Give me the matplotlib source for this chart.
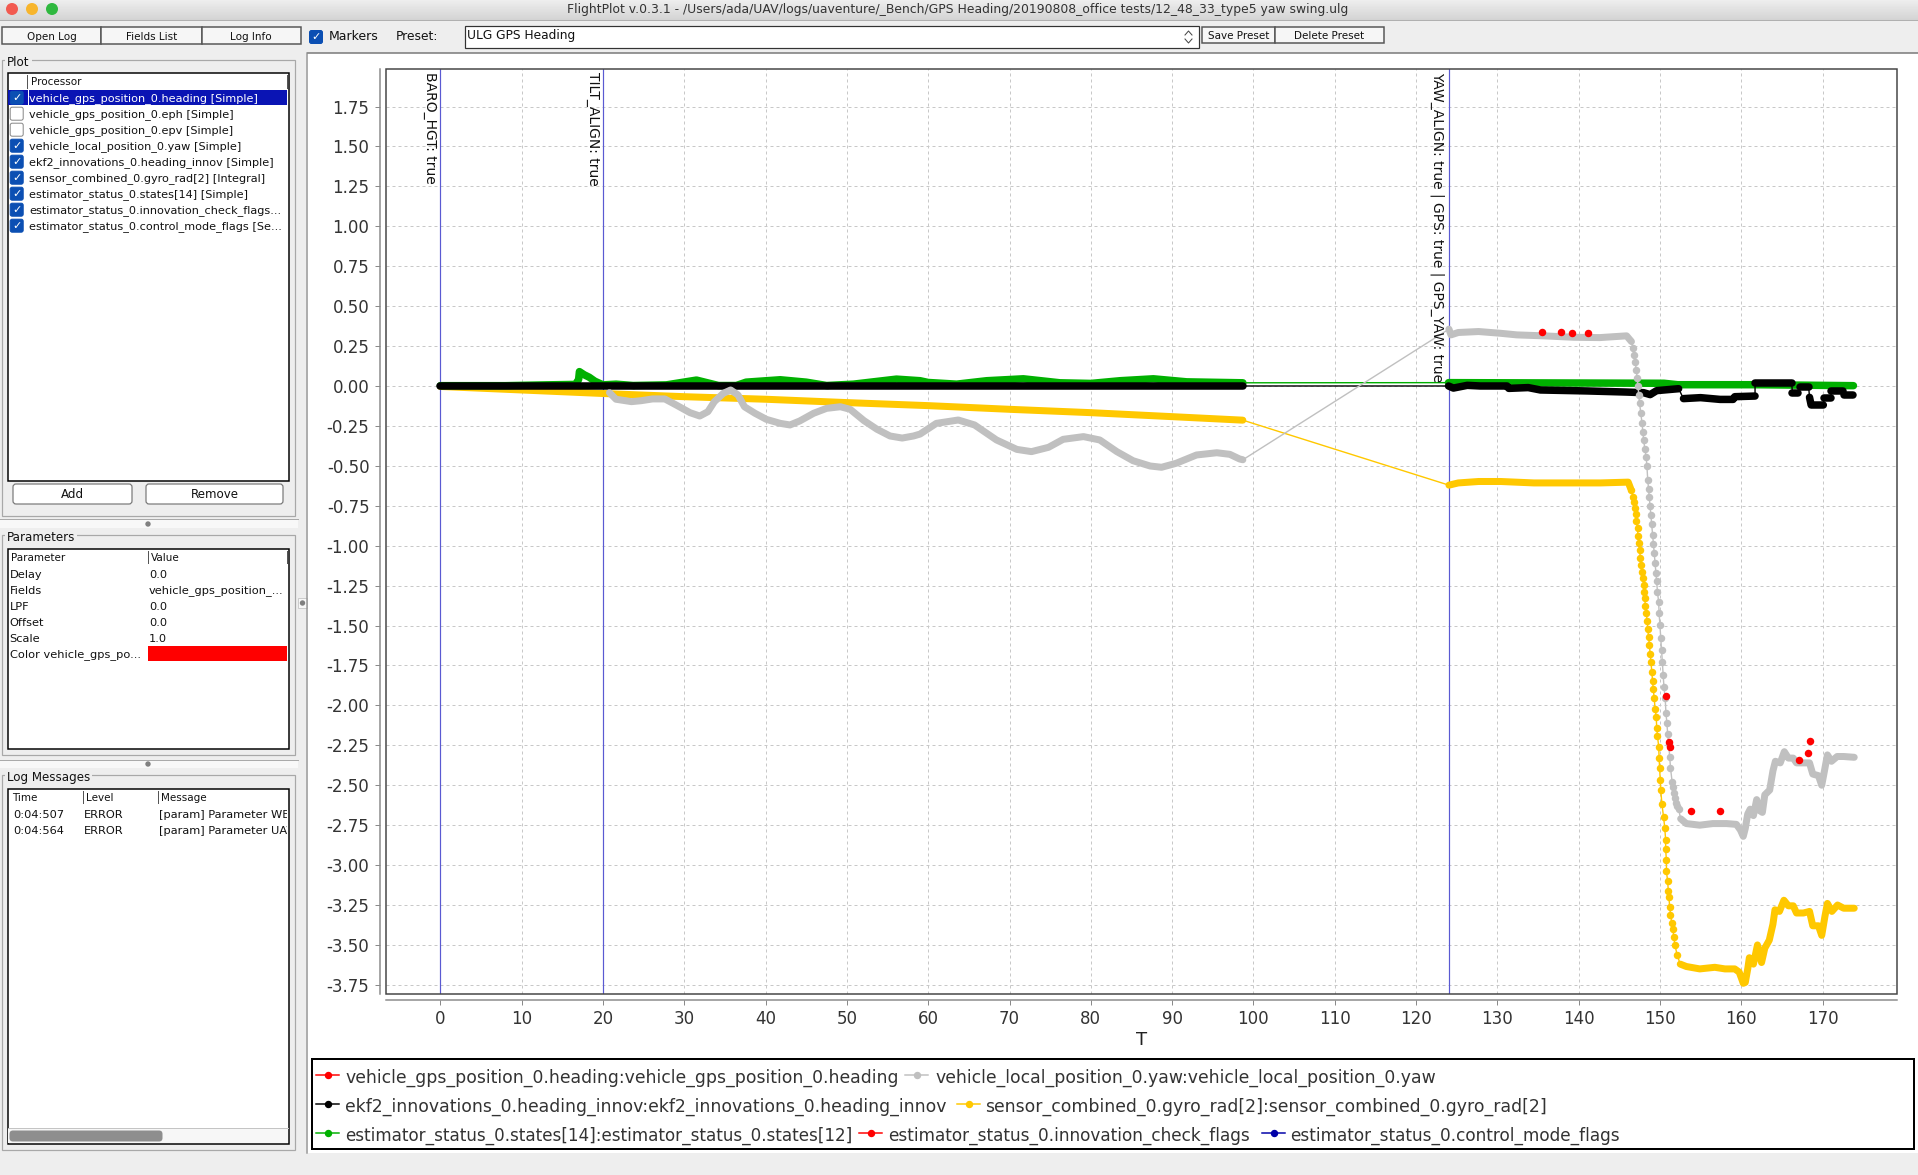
import numpy as np
import matplotlib
matplotlib.use("Agg")
import matplotlib.pyplot as plt
from matplotlib.patches import Rectangle, FancyBboxPatch, Circle

# series: a/b/c/d are the runs of the log
yaw_t_a = [20.8, 21.6, 23.5, 24.7, 26.1, 27.6, 29, 30.7, 31.9, 32.9, 33.7, 34.8, 35.7, 36.6, 37.4, 38.7, 40.1, 41.8,
           43, 44.2, 45.9, 47.5, 49.2, 50.4, 52.1, 53.7, 55.3, 56.8, 58.2, 59, 61, 63.7, 65.7, 68.4, 70.9, 72.7, 74.8,
           76.6, 79.1, 81.1, 83.2, 85.2, 87.3, 88.7, 90.5, 93, 95.5, 97.1, 98.3, 98.7]
yaw_a = [-.042, -.083, -.098, -.092, -.081, -.081, -.119, -.167, -.188, -.161, -.098, -.046, -.025, -.056, -.13,
         -.171, -.209, -.234, -.244, -.219, -.171, -.14, -.13, -.146, -.217, -.271, -.313, -.326, -.313, -.301, -.234,
         -.213, -.244, -.338, -.397, -.411, -.384, -.334, -.317, -.338, -.411, -.468, -.501, -.509, -.484, -.432,
         -.418, -.428, -.457, -.462]
yaw_t_b = [124.05, 124.3, 125.2, 127.7, 130.4, 132.4, 135.7, 139.4, 142.6, 145.9, 146.5]
yaw_b = [.356, .32, .335, .341, .33, .32, .314, .305, .303, .314, .278]
yaw_t_c = [146.7, 146.8, 146.95, 147.1, 147.2, 147.3, 147.4, 147.5, 147.65, 147.8, 147.9, 148, 148.15, 148.3, 148.4,
           148.5, 148.6, 148.7, 148.8, 148.9, 149, 149.1, 149.2, 149.3, 149.4, 149.5, 149.6, 149.7, 149.84, 149.9,
           150, 150.1, 150.2, 150.3, 150.4, 150.5, 150.65, 150.74, 150.86, 150.95, 151.07, 151.2, 151.3, 151.5,
           151.6, 151.7, 151.85, 152, 152.15, 152.3]
yaw_c = [.24, .195, .15, .1, .05, 0, -.055, -.109, -.17, -.234, -.29, -.34, -.395, -.444, -.5, -.5875, -.644, -.696,
         -.75, -.81, -.867, -.93, -.9875, -1.046, -1.106, -1.169, -1.223, -1.2875, -1.354, -1.42, -1.498, -1.58,
         -1.654, -1.73, -1.8125, -1.8875, -1.954, -2.05, -2.11, -2.18, -2.24, -2.32, -2.39, -2.48, -2.51, -2.55,
         -2.58, -2.61, -2.63, -2.65]
yaw_t_d = [152.55, 153.25, 154.9, 156.5, 158.2, 159.4, 159.9, 160.25, 160.5, 160.8, 161.1, 161.5, 161.9, 162.3, 162.6,
           162.9, 163.5, 163.9, 164.2, 164.8, 165.3, 165.8, 166.4, 166.8, 167.7, 168.4, 168.8, 169.5, 169.9, 170.2,
           170.6, 171.1, 171.8, 172.6, 173.9]
yaw_d = [-2.71, -2.74, -2.75, -2.74, -2.74, -2.745, -2.78, -2.82, -2.77, -2.68, -2.65, -2.69, -2.59, -2.66, -2.67,
         -2.56, -2.53, -2.41, -2.35, -2.36, -2.29, -2.33, -2.33, -2.36, -2.36, -2.36, -2.43, -2.44, -2.5, -2.42,
         -2.31, -2.35, -2.32, -2.32, -2.325]

gyro_t_a = [0, 10, 20, 30, 40, 50, 60, 70, 80, 90, 98.7]
gyro_a = [-.003, -.025, -.047, -.067, -.083, -.104, -.123, -.146, -.167, -.192, -.214]
gyro_t_b = [124.05, 125.2, 127.7, 130.4, 134.5, 138.6, 142.7, 146.1, 146.4]
gyro_b = [-.621, -.607, -.598, -.598, -.607, -.607, -.607, -.602, -.642]
gyro_t_c = [146.5, 146.7, 146.8, 146.9, 147.1, 147.1, 147.25, 147.3, 147.4, 147.5, 147.6, 147.7, 147.75, 147.9, 148,
            148.07, 148.15, 148.2, 148.3, 148.44, 148.5, 148.6, 148.7, 148.8, 148.9, 149, 149.1, 149.18, 149.3, 149.4,
            149.55, 149.6, 149.7, 149.85, 149.9, 149.96, 150.04, 150.1, 150.25, 150.45, 150.6, 150.7, 150.7, 150.8,
            150.8, 150.95, 151.03, 151.1, 151.2, 151.3, 151.45, 151.6, 151.7, 151.85, 152.1]
gyro_c = [-.654, -.696, -.727, -.7625, -.8, -.846, -.892, -.9375, -.983, -1.03, -1.077, -1.119, -1.1625, -1.2, -1.244,
          -1.2875, -1.33, -1.375, -1.42, -1.47, -1.52, -1.57, -1.62, -1.677, -1.73, -1.79, -1.85, -1.9, -1.954, -2.02,
          -2.07, -2.14, -2.19, -2.26, -2.33, -2.39, -2.47, -2.53, -2.62, -2.7, -2.77, -2.84, -2.9, -2.97, -3.04, -3.1,
          -3.16, -3.2, -3.26, -3.31, -3.36, -3.4, -3.45, -3.5, -3.56]
gyro_t_d = [152.5, 153.25, 154.9, 156.75, 158, 159.2, 159.75, 160.04, 160.25, 160.5, 160.8, 161, 161.5, 162, 162.5,
            162.9, 163.45, 163.9, 164.15, 164.7, 165.25, 165.8, 166.4, 166.8, 167.65, 168.4, 168.8, 169.5, 169.9,
            170.3, 170.6, 171.15, 171.85, 172.6, 173.9]
gyro_d = [-3.62, -3.635, -3.65, -3.64, -3.65, -3.65, -3.67, -3.71, -3.74, -3.735, -3.65, -3.58, -3.62, -3.5, -3.61,
          -3.52, -3.47, -3.37, -3.28, -3.29, -3.22, -3.255, -3.255, -3.3, -3.3, -3.29, -3.38, -3.38, -3.44, -3.32,
          -3.24, -3.29, -3.25, -3.27, -3.27]

state_t_a = [0, 8, 13, 16.6, 17, 17.1, 17.7, 18.3, 19, 20, 21.6, 23.7, 27.8, 31.5, 34.2, 36.4, 37.6, 41.8, 45, 47.5,
             50.8, 56.1, 59, 60, 63.5, 67.2, 71.7, 76.2, 80, 83.6, 87.7, 91.8, 98.7]
state_a = [.002, .002, .007, .01, .04, .09, .07, .055, .03, .007, .0115, .003, .007, .037, .003, .003, .024, .039,
           .024, .003, .0115, .043, .033, .022, .0115, .033, .045, .02, .016, .033, .045, .026, .02]
state_t_b = [124, 150.5, 152.2, 161.7, 173.8]
state_b = [.021, .017, .008, .008, .002]

innov_t_a = [0, 23.7]
innov_a = [0, 0]
innov_t_b = [23.95, 47.5]
innov_b = [0, 0]
innov_t_c = [47.85, 98.7]
innov_c = [0, 0]
innov_t_d = [124, 124.6, 126.3, 127.9, 131.2, 131.4, 133.8, 135.3, 141, 145.9, 148, 148.8, 149.6, 152.3]
innov_d = [0, -.013, .004, 0, 0, -.015, -.01, -.025, -.031, -.038, -.042, -.054, -.029, -.017]
innov_t_e = [152.9, 155, 157.4, 159, 159.2, 161.7]
innov_e = [-.079, -.073, -.084, -.084, -.067, -.063]
innov_t_f = [161.7, 166.2]
innov_f = [.021, .021]
innov_t_g = [166.3, 167]
innov_g = [-.042, -.042]
innov_t_h = [167.2, 168.3]
innov_h = [-.008, -.008]
innov_t_i = [168.4, 168.6, 170.1]
innov_i = [-.071, -.119, -.119]
innov_t_j = [170.2, 171]
innov_j = [-.077, -.077]
innov_t_k = [171.1, 172.5]
innov_k = [-.029, -.029]
innov_t_l = [172.6, 173.8]
innov_l = [-.054, -.054]

heading_t = [135.5, 137.8, 139.2, 141.2, 150.7, 151.1, 151.2, 153.8, 157.4, 167.1, 168.2, 168.5]
heading = [.337, .339, .331, .331, -1.94, -2.23, -2.26, -2.66, -2.66, -2.34, -2.295, -2.22]

event_t = [0, 20, 124]
event_labels = ["BARO_HGT: true", "TILT_ALIGN: true", "YAW_ALIGN: true | GPS: true | GPS_YAW: true"]

x_ticks = list(range(0, 171, 10))
y_ticks = [1.75, 1.5, 1.25, 1.0, .75, .5, .25, 0, -.25, -.5, -.75, -1.0, -1.25, -1.5, -1.75, -2.0, -2.25, -2.5,
           -2.75, -3.0, -3.25, -3.5, -3.75]

processors = ["vehicle_gps_position_0.heading [Simple]", "vehicle_gps_position_0.eph [Simple]",
              "vehicle_gps_position_0.epv [Simple]", "vehicle_local_position_0.yaw [Simple]",
              "ekf2_innovations_0.heading_innov [Simple]", "sensor_combined_0.gyro_rad[2] [Integral]",
              "estimator_status_0.states[14] [Simple]", "estimator_status_0.innovation_check_flags...",
              "estimator_status_0.control_mode_flags [Se..."]
processor_on = [True, False, False, True, True, True, True, True, True]
param_names = ["Delay", "Fields", "LPF", "Offset", "Scale", "Color vehicle_gps_po..."]
param_values = ["0.0", "vehicle_gps_position_...", "0.0", "0.0", "1.0", ""]

UI_FONT = "DejaVu Sans"
RED, GREY, BLACK, YELLOW, GREEN, NAVY = "#ff0000", "#c0c0c0", "#000000", "#ffc800", "#00b000", "#0000a8"
PX = 0.72  # one pixel in points at dpi 100

fig = plt.figure(figsize=(19.18, 11.75), dpi=100, facecolor="#eeeeee")
bg = fig.add_axes([0, 0, 1, 1], zorder=0)
bg.axis("off")


def ui_text(x, y, s, size=8.2, color="#111111", ha="left", **kw):
    return bg.text(x, y + 1, s, fontsize=size, color=color, ha=ha, va="center", family=UI_FONT, **kw)


def box(x0, y0, x1, y1, face="white", edge="black", lw=1.5, z=1):
    bg.add_patch(Rectangle((x0, y0), x1 - x0, y1 - y0, facecolor=face, edgecolor=edge, linewidth=lw * PX, zorder=z))


def button(x0, y0, x1, y1, label, size=7.5, rounded=False):
    if rounded:
        bg.add_patch(FancyBboxPatch((x0 + 3, y0 + 3), x1 - x0 - 6, y1 - y0 - 6, boxstyle="round,pad=3",
                                    facecolor="white", edgecolor="#777777", linewidth=1.2 * PX, zorder=2))
    else:
        box(x0, y0, x1, y1, face="#f6f6f6", edge="#555555", lw=1.5, z=2)
    ui_text((x0 + x1) / 2, (y0 + y1) / 2, label, size=size, ha="center", zorder=3)


def checkbox(x, y, on):
    face = "#0b4fb3" if on else "white"
    edge = "#0b4fb3" if on else "#888888"
    bg.add_patch(FancyBboxPatch((x - 4.5, y - 4.5), 9, 9, boxstyle="round,pad=2", facecolor=face, edgecolor=edge,
                                linewidth=1 * PX, zorder=3))
    if on:
        ui_text(x, y - 1, "\u2713", size=8, color="white", ha="center", zorder=4)


def group(x0, y0, x1, y1, title):
    box(x0, y0, x1, y1, face="#eeeeee", edge="#a8a8a8", lw=1.2, z=0.5)
    t = ui_text(x0 + 5, y0 + 1.5, title, size=8.6, zorder=2)
    t.set_bbox(dict(facecolor="#eeeeee", edgecolor="none", pad=1.5))


# window chrome
grad = np.linspace(0.93, 0.83, 20).reshape(-1, 1)
bg.imshow(grad, cmap="gray", vmin=0, vmax=1, extent=(0, 1918, 20, 0), aspect="auto", zorder=0.2)
bg.plot([0, 1918], [20, 20], color="#b0b0b0", lw=1 * PX, zorder=0.3)
for cx, col in zip([12, 32, 52], ["#f25a50", "#f7b52c", "#2fb83f"]):
    bg.add_patch(Circle((cx, 9), 6, facecolor=col, edgecolor="none", zorder=1))
ui_text(958, 8, "FlightPlot v.0.3.1 - /Users/ada/UAV/logs/uaventure/_Bench/GPS Heading/20190808_office tests/"
                "12_48_33_type5 yaw swing.ulg", size=8.9, color="#333333", ha="center", zorder=1)

button(2, 27, 101, 44, "Open Log", size=7.5)
button(101, 27, 201.5, 44, "Fields List", size=7.5)
button(201.5, 27, 301, 44, "Log Info", size=7.5)
checkbox(316, 37, True)
ui_text(329, 36, "Markers", size=9)
ui_text(396, 35, "Preset:", size=8.8)
box(465, 26, 1199, 47.5, edge="#333333", lw=1.2)
ui_text(467, 35, "ULG GPS Heading", size=8.8)
bg.plot([1185, 1188.5, 1192], [35, 31, 35], color="#444444", lw=1 * PX, zorder=3)
bg.plot([1185, 1188.5, 1192], [39, 43, 39], color="#444444", lw=1 * PX, zorder=3)
button(1202, 27, 1275, 43, "Save Preset", size=7.5)
button(1275, 27, 1384, 43, "Delete Preset", size=7.5)

# plot list
group(2, 60, 295, 516, "Plot")
box(7.5, 73, 288.5, 480.5)
ui_text(31, 81, "Processor", size=7.5)
bg.plot([27, 27], [75, 88], color="#555555", lw=1 * PX, zorder=2)
bg.plot([287, 287], [75, 88], color="#555555", lw=1 * PX, zorder=2)
for i, (name, on) in enumerate(zip(processors, processor_on)):
    y = 97.7 + i * 16
    if i == 0:
        bg.add_patch(Rectangle((8, y - 8), 279, 15.5, facecolor="#0a14b4", edgecolor="none", zorder=1.5))
        bg.plot([27.5, 27.5], [y - 8, y + 7.5], color="white", lw=1 * PX, zorder=1.6)
    checkbox(16.7, y, on)
    ui_text(29, y, name, size=8.15, color="white" if i == 0 else "#111111", zorder=3)
button(13, 484, 132, 504, "Add", size=8.6, rounded=True)
button(146, 484, 283, 504, "Remove", size=8.6, rounded=True)

# dividers
for y0, y1, ky in [(519, 528, 524), (760, 768, 764)]:
    bg.add_patch(Rectangle((0, y0), 298, y1 - y0, facecolor="#f8f8f8", edgecolor="none", zorder=0.4))
    bg.plot([0, 298], [y0, y0], color="#aaaaaa", lw=1 * PX, zorder=0.45)
    bg.add_patch(Circle((148, ky), 2.7, facecolor="#808080", edgecolor="none", zorder=1))
box(298, 598, 307, 608, face="#f8f8f8", edge="#cccccc", lw=1)
bg.add_patch(Circle((302.5, 603), 2.7, facecolor="#808080", edgecolor="none", zorder=2))

# parameters
group(2, 535, 295, 755, "Parameters")
box(7.5, 549, 288.5, 749)
ui_text(11, 557, "Parameter", size=7.5)
ui_text(151, 557, "Value", size=7.5)
bg.plot([147.5, 147.5], [551, 563], color="#555555", lw=1 * PX, zorder=2)
bg.plot([287, 287], [551, 563], color="#555555", lw=1 * PX, zorder=2)
for i, (name, val) in enumerate(zip(param_names, param_values)):
    y = 573.7 + i * 16
    ui_text(9.5, y, name, size=8.2, zorder=3)
    ui_text(149, y, val, size=8.2, zorder=3)
bg.add_patch(Rectangle((148, 646), 139, 15, facecolor="#ff0000", edgecolor="none", zorder=2))

# log messages
group(2, 775, 295, 1150, "Log Messages")
box(7.5, 789, 288.5, 1143.5)
for sx in [82.5, 157.5]:
    bg.plot([sx, sx], [791, 803], color="#555555", lw=1 * PX, zorder=2)
ui_text(12, 797, "Time", size=7.5)
ui_text(86, 797, "Level", size=7.5)
ui_text(161, 797, "Message", size=7.5)
log_clip = Rectangle((8, 789), 279, 100, transform=bg.transData)
for y, t_str, tail in [(813.7, "0:04:507", "WEIGHT"), (829.7, "0:04:564", "UAVCAN")]:
    ui_text(13, y, t_str, size=8.2, zorder=3)
    ui_text(84, y, "ERROR", size=8.2, zorder=3)
    msg = ui_text(159, y, "[param] Parameter " + tail, size=8.2, zorder=3)
    msg.set_clip_on(True)
    msg.set_clip_path(log_clip)
bg.add_patch(Rectangle((8, 1128), 280, 15, facecolor="#f7f7f7", edgecolor="none", zorder=1.5))
bg.plot([8, 288], [1128, 1128], color="#c4c4c4", lw=1 * PX, zorder=1.6)
bg.add_patch(FancyBboxPatch((13, 1134), 146, 4, boxstyle="round,pad=3.5", facecolor="#8e8e8e", edgecolor="none",
                            zorder=2))

# chart panel
bg.plot([307, 307], [53, 1153], color="#999999", lw=1.5 * PX, zorder=2)
bg.add_patch(Rectangle((308, 53), 1610, 1100, facecolor="white", edgecolor="none", zorder=0.6))
bg.plot([308, 1918], [53, 53], color="#777777", lw=1.5 * PX, zorder=2)

# legend, built from the same colours as the curves
legend_rows = [
    (1075, 316, 345, RED, 12.4, "vehicle_gps_position_0.heading:vehicle_gps_position_0.heading"),
    (1075, 905, 935, GREY, 12.4, "vehicle_local_position_0.yaw:vehicle_local_position_0.yaw"),
    (1104, 316, 345, BLACK, 12.4, "ekf2_innovations_0.heading_innov:ekf2_innovations_0.heading_innov"),
    (1104, 957, 985, YELLOW, 12.4, "sensor_combined_0.gyro_rad[2]:sensor_combined_0.gyro_rad[2]"),
    (1133, 316, 345, GREEN, 12.05, "estimator_status_0.states[14]:estimator_status_0.states[12]"),
    (1133, 859, 888, RED, 12.15, "estimator_status_0.innovation_check_flags"),
    (1133, 1262, 1290, NAVY, 12.2, "estimator_status_0.control_mode_flags"),
]
box(311.5, 1059, 1914, 1148.5, lw=2)
for y, sx, tx, col, fs, label in legend_rows:
    bg.plot([sx, sx + 23], [y, y], color=col, lw=1.5 * PX, zorder=3)
    bg.plot([sx + 11.5], [y], "o", color=col, ms=6 * PX, zorder=3)
    ui_text(tx, y + 1.5, label, size=fs, color="#333333", zorder=3)

bg.set_xlim(0, 1918)
bg.set_ylim(1175, 0)

# main plot, placed from pixel edges of the frame
L, R, T, B = 386.0, 1897.0, 68.5, 993.5
ax = fig.add_axes([L / 1918, 1 - B / 1175, (R - L) / 1918, (B - T) / 1175], zorder=2)
ax.set_xlim(-6.69, 179.16)
ax.set_ylim(-3.804, 1.988)
ax.set_xticks(x_ticks)
ax.set_yticks(y_ticks)
ax.set_yticklabels(["%.2f" % v for v in y_ticks])
ax.tick_params(labelsize=12, labelcolor="#333333", color="#8a8a8a", length=5 * PX, width=1 * PX, pad=4)
ax.grid(True, color="#c8c8c8", linewidth=1 * PX, linestyle=(0, (3, 3)))
ax.set_axisbelow(True)
ax.set_xlabel("T", fontsize=13, color="#222222", labelpad=2)
for side in ["top", "right"]:
    ax.spines[side].set_visible(False)
for side in ["left", "bottom"]:
    ax.spines[side].set_position(("outward", 6 * PX))
    ax.spines[side].set_color("#8a8a8a")
    ax.spines[side].set_linewidth(1.5 * PX)
ax.add_patch(Rectangle((0, 0), 1, 1, transform=ax.transAxes, fill=False, edgecolor="#444444", linewidth=1.5 * PX,
                       clip_on=False, zorder=6))

for t0, label in zip(event_t, event_labels):
    ax.axvline(t0, color="#5a5ad2", lw=1.2 * PX, zorder=1.5)
    ax.annotate(label, xy=(t0, 1), xycoords=("data", "axes fraction"), xytext=(-2.5, -4 * PX),
                textcoords="offset points", rotation=-90, ha="right", va="top", fontsize=10, color="#111111",
                zorder=7)


def draw(col, dense, sparse=(), fat=7, dot=7.5):
    # thin line through everything, fat where the samples overlap into a band, dots where they separate
    runs = sorted(list(dense) + list(sparse), key=lambda r: r[0][0])
    ax.plot(np.concatenate([r[0] for r in runs]), np.concatenate([r[1] for r in runs]), color=col, lw=1.4 * PX,
            zorder=3, solid_joinstyle="round")
    for t, v in dense:
        ax.plot(t, v, color=col, lw=fat * PX, zorder=3, solid_capstyle="round", solid_joinstyle="round")
    for t, v in sparse:
        ax.plot(t, v, "o", color=col, ms=dot * PX, mew=0, zorder=3)


draw(YELLOW, [(gyro_t_a, gyro_a), (gyro_t_b, gyro_b), (gyro_t_d, gyro_d)], [(gyro_t_c, gyro_c)])
draw(GREEN, [(state_t_a, state_a), (state_t_b, state_b)], fat=7.5)
draw(BLACK, [(innov_t_a, innov_a), (innov_t_b, innov_b), (innov_t_c, innov_c), (innov_t_d, innov_d),
             (innov_t_e, innov_e), (innov_t_f, innov_f), (innov_t_g, innov_g), (innov_t_h, innov_h),
             (innov_t_i, innov_i), (innov_t_j, innov_j), (innov_t_k, innov_k), (innov_t_l, innov_l)], fat=7.5)
draw(GREY, [(yaw_t_a, yaw_a), (yaw_t_b, yaw_b), (yaw_t_d, yaw_d)], [(yaw_t_c, yaw_c)])
ax.plot(heading_t, heading, "o", color=RED, ms=7.5 * PX, mew=0, zorder=4)

fig.savefig("out.png", dpi=100, facecolor=fig.get_facecolor())
